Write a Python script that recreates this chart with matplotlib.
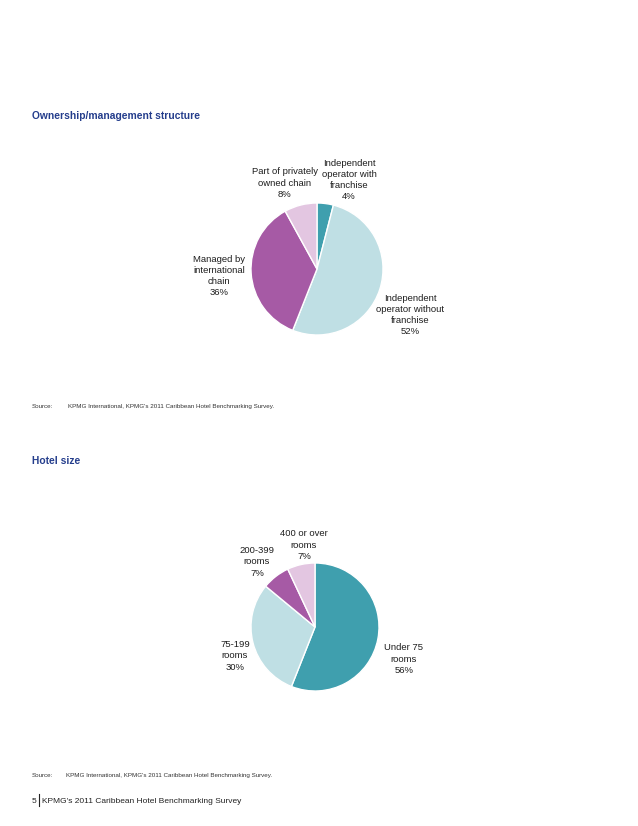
import matplotlib.pyplot as plt

# Ownership/management structure (clockwise from 12 o'clock)
own_labels = ['Independent\noperator with\nfranchise', 'Independent\noperator without\nfranchise',
              'Managed by\ninternational\nchain', 'Part of privately\nowned chain']
own_values = [4, 52, 36, 8]

# Hotel size (clockwise from 12 o'clock)
size_labels = ['Under 75\nrooms', '75-199\nrooms', '200-399\nrooms', '400 or over\nrooms']
size_values = [56, 30, 7, 7]

COLORS = ['#3f9fae', '#bfdfe4', '#a65aa5', '#e3c6e1']
TITLE_BLUE = '#243d8c'
W, H = 638, 826

plt.rcParams['font.family'] = ['Liberation Sans', 'DejaVu Sans']

fig = plt.figure(figsize=(W / 100, H / 100), dpi=100)


def pie_axes(cx, cy, r):
    """ axes where data unit 1 == pie radius, centred on pixel (cx, cy) """
    half = 3 * r
    ax = fig.add_axes([(cx - half) / W, 1 - (cy + half) / H, 2 * half / W, 2 * half / H])
    ax.axis('off')
    return ax


def draw_pie(ax, values, labels, spots, r):
    ax.pie(values, colors=COLORS, startangle=90, counterclock=False, radius=1,
           wedgeprops=dict(edgecolor='white', linewidth=1))
    ax.set_xlim(-3, 3)
    ax.set_ylim(-3, 3)
    for lab, val, (px, py) in zip(labels, values, spots):
        ax.text(px / r, -py / r, lab + '\n' + str(val) + '%', ha='center', va='center',
                fontsize=6.8, linespacing=1.3, color='#1e1e1e')


#%% first pie
cx1, cy1, r1 = 317, 269, 66
ax1 = pie_axes(cx1, cy1, r1)
# label centres as pixel offsets from pie centre
own_spots = [(349 - cx1, 180 - cy1), (410 - cx1, 315 - cy1),
             (219 - cx1, 276 - cy1), (285 - cx1, 183 - cy1)]
draw_pie(ax1, own_values, own_labels, own_spots, r1)

#%% second pie
cx2, cy2, r2 = 315, 627, 64
ax2 = pie_axes(cx2, cy2, r2)
size_spots = [(404 - cx2, 659 - cy2), (235 - cx2, 656 - cy2),
              (257 - cx2, 562 - cy2), (304 - cx2, 545 - cy2)]
draw_pie(ax2, size_values, size_labels, size_spots, r2)

#%% page text (y given as baseline in pixels)
def px_text(x, y, s, **kw):
    fig.text(x / W, 1 - y / H, s, va='baseline', **kw)

px_text(32, 119, 'Ownership/management structure', fontsize=7.4, fontweight='bold', color=TITLE_BLUE)
px_text(32, 464, 'Hotel size', fontsize=7.4, fontweight='bold', color=TITLE_BLUE)

src = "KPMG International, KPMG's 2011 Caribbean Hotel Benchmarking Survey."
px_text(32, 408, 'Source:', fontsize=4.5, color='#333333')
px_text(68, 408, src, fontsize=4.5, color='#333333')
px_text(32, 777, 'Source:', fontsize=4.5, color='#333333')
px_text(66, 777, src, fontsize=4.5, color='#333333')

px_text(32, 803, "5", fontsize=6, color='#222222')
fig.add_artist(plt.Line2D([39 / W, 39 / W], [1 - 794 / H, 1 - 806 / H], color='#222222', lw=0.8))
px_text(42, 803, "KPMG's 2011 Caribbean Hotel Benchmarking Survey", fontsize=6, color='#222222')

fig.savefig('out.png', dpi=100)
